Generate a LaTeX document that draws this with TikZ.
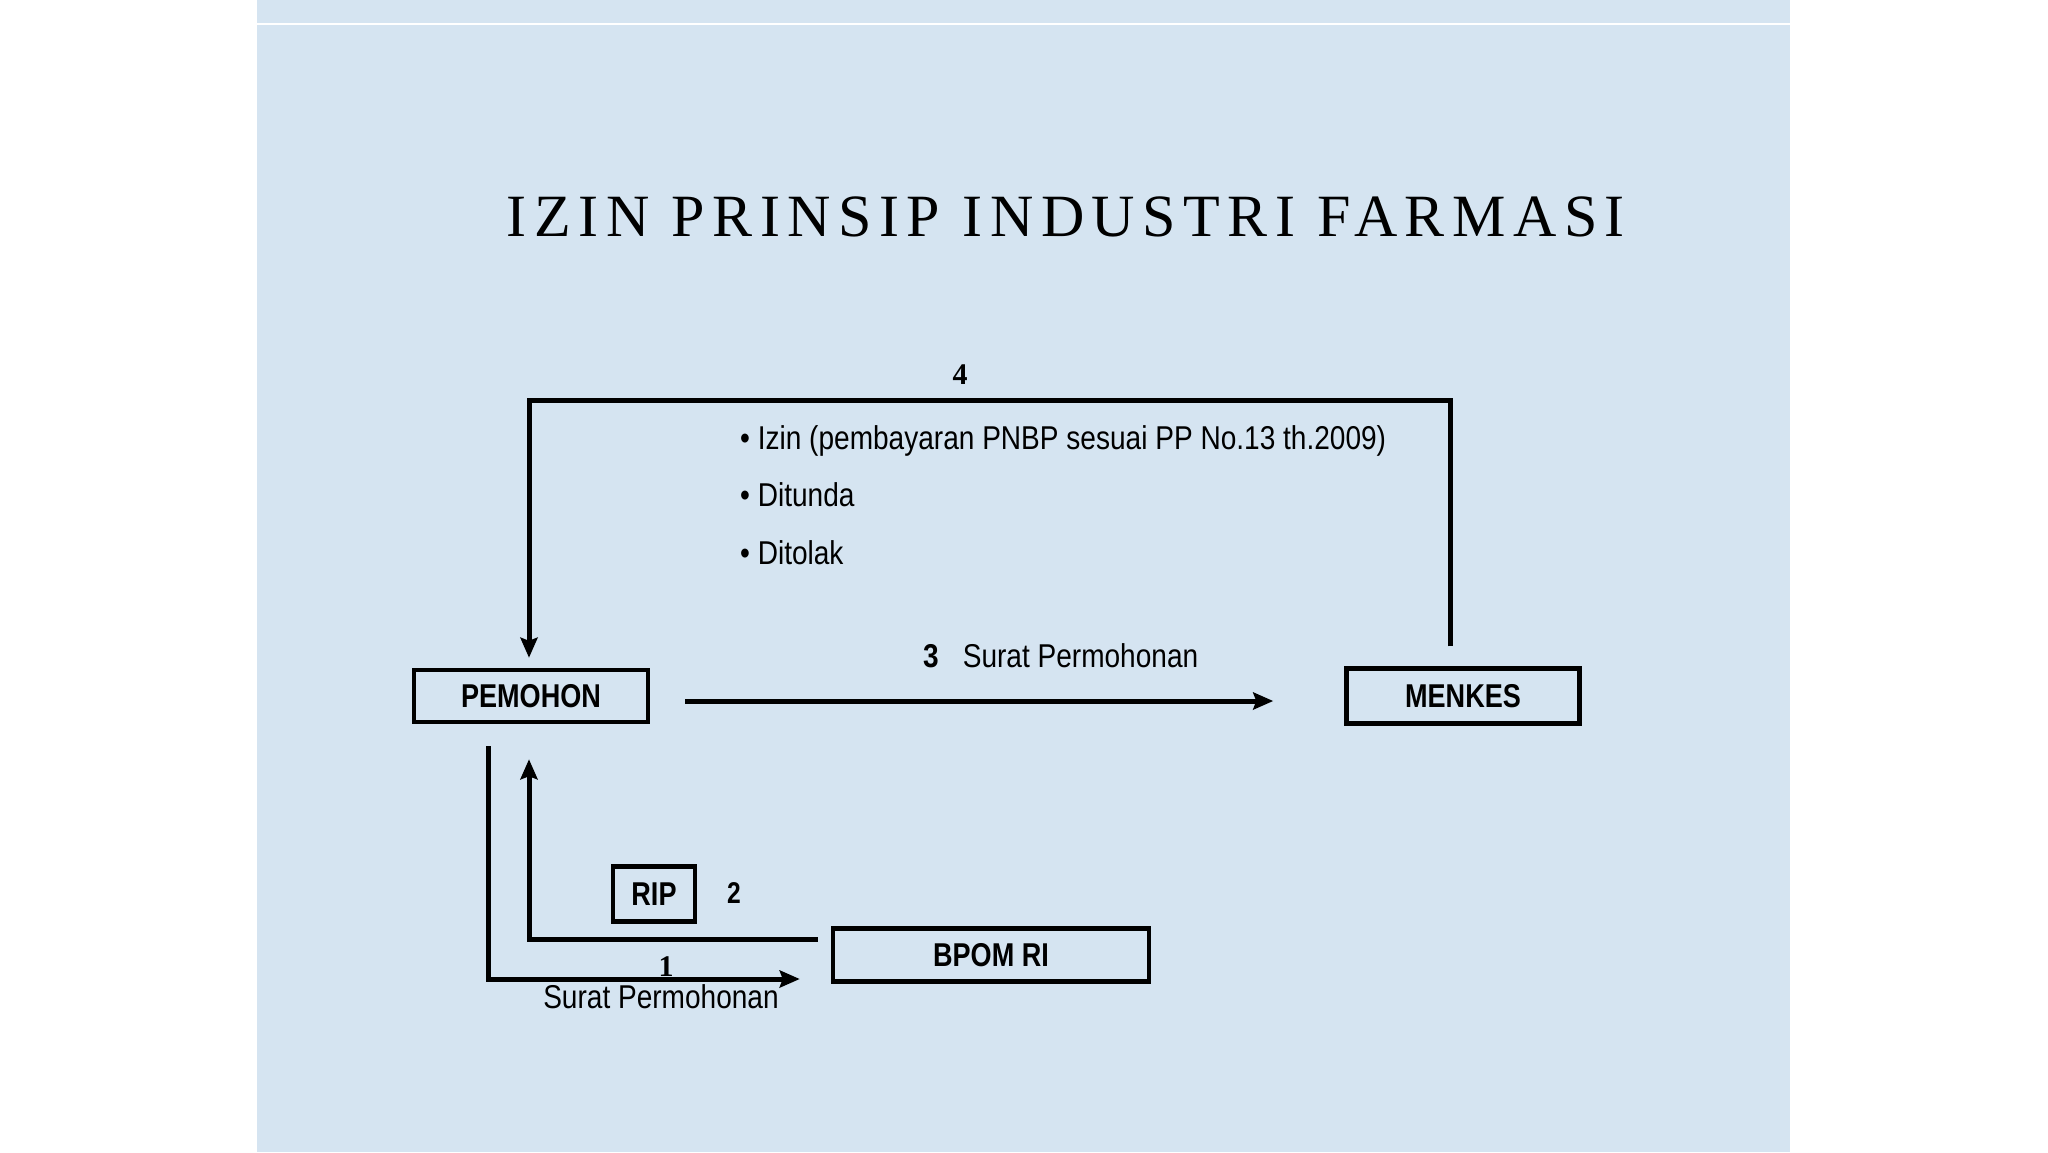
\documentclass[tikz,border=0pt]{standalone}
\usepackage{fontspec}
\setmainfont{Liberation Serif}
\newfontfamily\narrowsans{Liberation Sans}[FakeStretch=0.82]
\newfontfamily\plainsans{Liberation Sans}[FakeStretch=0.85]
\newfontfamily\titlefont{Liberation Serif}[LetterSpace=12.5]
\usetikzlibrary{arrows.meta}
\definecolor{slideblue}{RGB}{213,228,241}
\tikzstyle{box} = [
	rectangle,
	draw=black,
	line width=4.5pt,
	inner sep=0pt,
	text centered,
	font=\narrowsans\bfseries\fontsize{33}{40}\selectfont
]
\tikzstyle{txt} = [
	inner sep=0pt,
	font=\plainsans\fontsize{33}{40}\selectfont
]
\tikzstyle{num} = [
	inner sep=0pt,
	font=\bfseries\fontsize{30}{36}\selectfont
]
\tikzstyle{arrow} = [line width=5pt, -{Stealth[length=20pt,width=17pt,inset=3pt]}]

\begin{document}
\begin{tikzpicture}[x=1pt, y=-1pt]
        \useasboundingbox (0,0) rectangle (2048,1152);
        \fill[white] (0,0) rectangle (2048,1152);
        \fill[slideblue] (257,0) rectangle (1790,1152);
        \draw[white, line width=1.5pt] (257,24) -- (1790,24);
        \node (title) [inner sep=0pt, font=\titlefont\fontsize{60}{70}\selectfont] at (1066,217)
          {IZIN PRINSIP INDUSTRI FARMASI};
        % boxes
        \node (pemohon) [box, minimum width=234pt, minimum height=52pt] at (531,696) {PEMOHON};
        \node (menkes) [box, minimum width=233pt, minimum height=55pt] at (1463,696) {MENKES};
        \node (bpom) [box, minimum width=316pt, minimum height=53pt] at (991,955) {BPOM RI};
        \node (rip) [box, minimum width=82pt, minimum height=55pt] at (654,894) {RIP};
        % labels
        \node (n4) [num] at (960,375) {4};
        \node (hasil) [txt, anchor=base west, align=left, font=\plainsans\fontsize{33}{57.5}\selectfont]
          at (740,564)
          {• Izin (pembayaran PNBP sesuai PP No.13 th.2009)\\• Ditunda\\• Ditolak};
        \node (n3) [txt, anchor=base west] at (923,667)
          {\textbf{3}\hspace{24pt}Surat Permohonan};
        \node (n2) [txt, font=\narrowsans\bfseries\fontsize{30}{36}\selectfont] at (734,893) {2};
        \node (n1) [num] at (666,967) {1};
        \node (surat1) [txt, anchor=base] at (661,1008) {Surat Permohonan};
        % connectors
        \coordinate (top4) at (990,400);
        \draw [arrow, shorten <=20pt, shorten >=10pt]
          ([xshift=-13pt]menkes.north) |- (top4) -| ([xshift=-2pt]pemohon.north);
        \draw [arrow, shorten <=35pt, shorten >=71pt]
          ([yshift=-5pt]pemohon.east) -- ([yshift=-5pt]pemohon.east -| menkes.west);
        \draw [arrow] ([xshift=-43pt,yshift=-22pt]pemohon.south)
          |- ([xshift=-31pt,yshift=-24pt]bpom.west);
        \draw [arrow] ([xshift=-13pt,yshift=16pt]bpom.west)
          -| ([xshift=-2pt,yshift=-35pt]pemohon.south);
      \end{tikzpicture}
\end{document}
